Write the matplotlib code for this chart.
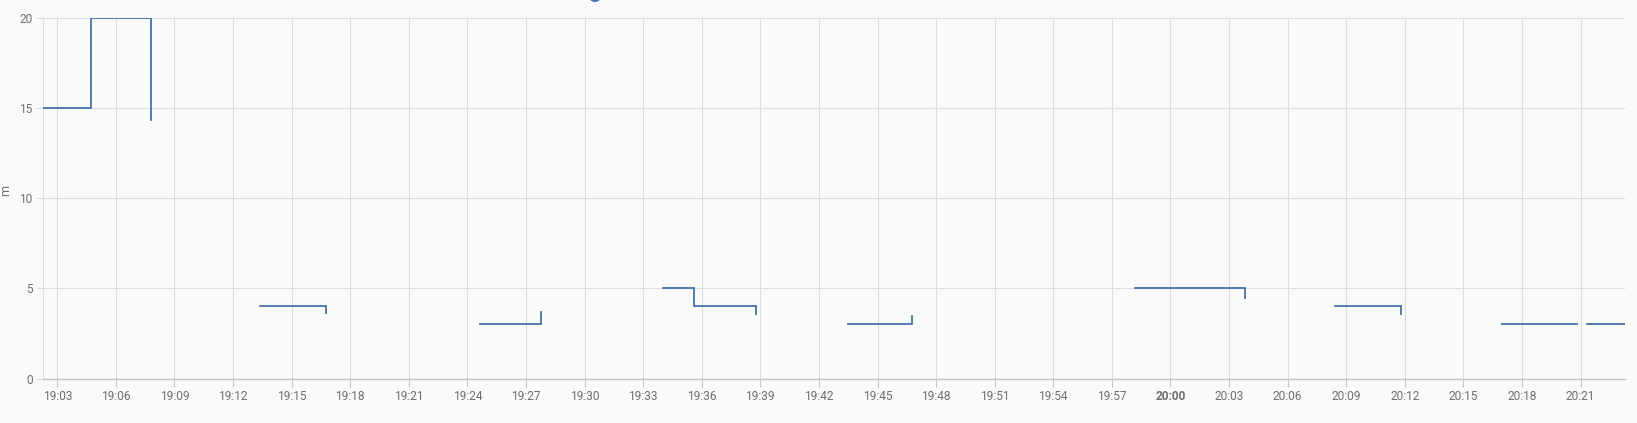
import matplotlib
matplotlib.use("Agg")
import matplotlib.pyplot as plt
import matplotlib.dates as mdates
import pandas as pd
from matplotlib.patches import Ellipse

plt.rcParams['font.family'] = ['Roboto', 'DejaVu Sans']

DAY = "2024-01-01 "

# Each segment: times and values drawn as a post-step line (last point = short tail)
seg1_t = ["19:02:16", "19:04:43", "19:07:47", "19:07:47"]
seg1_v = [15, 20, 20, 14.35]
seg2_t = ["19:13:23", "19:16:46", "19:16:46"]
seg2_v = [4, 4, 3.64]
seg3_t = ["19:24:39", "19:27:46", "19:27:46"]
seg3_v = [3, 3, 3.7]
seg4_t = ["19:34:02", "19:35:36", "19:38:47", "19:38:47"]
seg4_v = [5, 4, 4, 3.59]
seg5_t = ["19:43:29", "19:46:47", "19:46:47"]
seg5_v = [3, 3, 3.46]
seg6_t = ["19:58:10", "20:03:48", "20:03:48"]
seg6_v = [5, 5, 4.44]
seg7_t = ["20:08:26", "20:11:48", "20:11:48"]
seg7_v = [4, 4, 3.6]
seg8_t = ["20:17:00", "20:20:48"]
seg8_v = [3, 3]
seg9_t = ["20:21:19", "20:23:15"]
seg9_v = [3, 3]

segments = [(seg1_t, seg1_v), (seg2_t, seg2_v), (seg3_t, seg3_v), (seg4_t, seg4_v),
            (seg5_t, seg5_v), (seg6_t, seg6_v), (seg7_t, seg7_v), (seg8_t, seg8_v),
            (seg9_t, seg9_v)]

x_start, x_end = "19:02:16", "20:23:15"
tick_start, tick_end = "19:03", "20:21"
y_ticks = [0, 5, 10, 15, 20]
y_label = "m"

BG = "#fafafa"
LINE = "#4573a7"
GRID = "#dddddd"
AXIS = "#c4c4c4"
TXT = "#6f6f6f"

def ts(s):
    return pd.to_datetime(DAY + s)

fig = plt.figure(figsize=(16.37, 4.23), dpi=100, facecolor=BG)
ax = fig.add_axes([43 / 1637, 1 - 378.5 / 423, (1624.5 - 43) / 1637, (378.5 - 18) / 423])
ax.set_facecolor(BG)

for t, v in segments:
    ax.plot([ts(s) for s in t], v, drawstyle="steps-post", color=LINE, lw=1.3,
            solid_joinstyle="miter", zorder=3)

ax.set_xlim(ts(x_start), ts(x_end))
ax.set_ylim(0, 20)

ticks = pd.date_range(ts(tick_start), ts(tick_end), freq="3min")
ax.set_xticks(ticks)
ax.set_xticklabels([t.strftime("%H:%M") for t in ticks])
for lbl, t in zip(ax.get_xticklabels(), ticks):
    if t.hour == 20 and t.minute == 0:
        lbl.set_fontweight("bold")
ax.set_yticks(y_ticks)

ax.grid(True, color=GRID, lw=0.8, zorder=0)
for s in ["top", "right"]:
    ax.spines[s].set_visible(False)
ax.spines["left"].set_color(GRID)
ax.spines["left"].set_linewidth(0.8)
ax.spines["bottom"].set_color(AXIS)
ax.spines["bottom"].set_linewidth(1.0)

ax.tick_params(axis="x", colors=AXIS, labelcolor=TXT, labelsize=8.6, length=6, width=0.8, pad=2)
ax.tick_params(axis="y", colors=GRID, labelcolor=TXT, labelsize=8.6, length=5, width=0.8, pad=2.5)

fig.text(5.5 / 1637, 1 - 190 / 423, y_label, rotation=90, color=TXT, fontsize=9,
         ha="center", va="center")

# cut-off legend marker at the top edge
fig.patches.append(Ellipse((595 / 1637, 1 + 4.5 / 423), 13 / 1637, 13 / 423,
                           transform=fig.transFigure, facecolor=LINE, edgecolor="none"))

fig.savefig("out.png", dpi=100, facecolor=BG)
